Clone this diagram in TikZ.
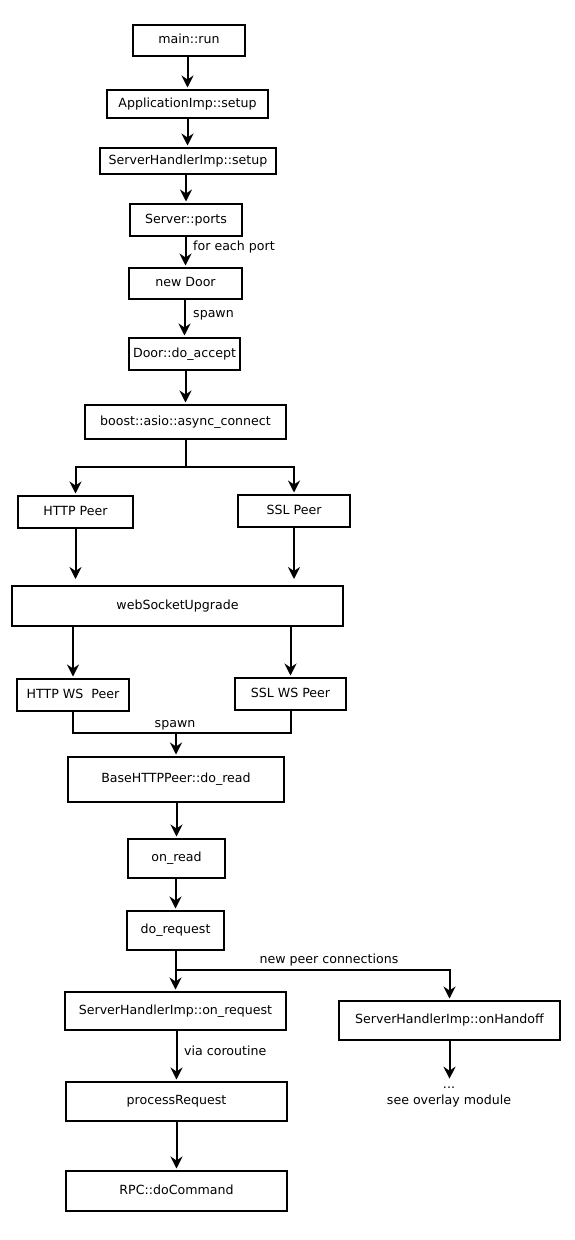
\documentclass[tikz,border=0pt]{standalone}
\usepackage{fontspec}
\setmainfont{DejaVu Sans}
\usetikzlibrary{arrows.meta}
\begin{document}
\begin{tikzpicture}[x=1pt,y=-1pt,
 box/.style={draw, line width=2pt, inner sep=0pt, text height=9.6pt, text depth=3.6pt, font=\fontsize{12.6}{15}\selectfont},
 lbl/.style={inner sep=0pt, text height=9.6pt, text depth=3.6pt, font=\fontsize{12.6}{15}\selectfont},
 arr/.style={line width=2pt, -{Stealth[length=12pt,width=12pt,inset=4pt]}, shorten >=1.5pt},
 ln/.style={line width=2pt}]
\useasboundingbox[fill=white] (0,0) rectangle (574,1240);
\node[box, minimum width=112pt, minimum height=31pt] (main) at (189,40.5) {main::run};
\node[box, minimum width=161pt, minimum height=28pt] (app) at (187.5,104) {ApplicationImp::setup};
\node[box, minimum width=176pt, minimum height=26pt] (shs) at (188,161) {ServerHandlerImp::setup};
\node[box, minimum width=112pt, minimum height=32pt] (ports) at (186,220) {Server::ports};
\node[box, minimum width=113pt, minimum height=31pt] (door) at (185.5,283.5) {new Door};
\node[box, minimum width=111pt, minimum height=32pt] (accept) at (184.5,354) {Door::do\_accept};
\node[box, minimum width=201pt, minimum height=34pt] (boost) at (185.5,422) {boost::asio::async\_connect};
\node[box, minimum width=115pt, minimum height=32pt] (httpp) at (75.5,512) {HTTP Peer};
\node[box, minimum width=112pt, minimum height=32pt] (sslp) at (294,511) {SSL Peer};
\node[box, minimum width=331pt, minimum height=40pt] (wsu) at (177.5,606) {webSocketUpgrade};
\node[box, minimum width=112pt, minimum height=32pt] (httpws) at (73,695) {HTTP WS\ \ Peer};
\node[box, minimum width=111pt, minimum height=32pt] (sslws) at (290.5,694) {SSL WS Peer};
\node[box, minimum width=216pt, minimum height=45pt] (base) at (176,779.5) {BaseHTTPPeer::do\_read};
\node[box, minimum width=97pt, minimum height=39pt] (onread) at (176.5,858.5) {on\_read};
\node[box, minimum width=97pt, minimum height=39pt] (doreq) at (175.5,930.5) {do\_request};
\node[box, minimum width=221pt, minimum height=38pt] (onreq) at (175.5,1011) {ServerHandlerImp::on\_request};
\node[box, minimum width=221pt, minimum height=39pt] (handoff) at (449.5,1020.5) {ServerHandlerImp::onHandoff};
\node[box, minimum width=221pt, minimum height=39pt] (proc) at (176.5,1101.5) {processRequest};
\node[box, minimum width=221pt, minimum height=40pt] (rpc) at (176.5,1191) {RPC::doCommand};
\node[lbl] (dots) at (449,1085.5) {...};
\node[lbl] (see) at (449,1101.5) {see overlay module};
\node[lbl, anchor=west] (l1) at (193,247) {for each port};
\node[lbl, anchor=west] (l2) at (193,314) {spawn};
\node[lbl] (l3) at (175,724) {spawn};
\node[lbl] (l4) at (329,960.5) {new peer connections};
\node[lbl, anchor=west] (l5) at (184,1052.5) {via coroutine};
\coordinate (split) at (186,467);
\coordinate (merge) at (176,733);
\coordinate (branch) at (176,970);
\draw[arr] (main.south -| app) -- (app);
\draw[arr] (app) -- (app |- shs.north);
\draw[arr] (shs.south -| ports) -- (ports);
\draw[arr] (ports.south -| door) -- (door);
\draw[arr] (door.south -| accept) -- (accept);
\draw[arr] (accept.south -| boost) -- (boost);
\draw[ln] (boost.south -| split) -- (split);
\draw[arr] (split) -| (httpp.north);
\draw[arr] (split) -| (sslp.north);
\draw[arr, shorten >=6pt] (httpp.south) -- (httpp.south |- wsu.north);
\draw[arr, shorten >=6pt] (sslp.south) -- (sslp.south |- wsu.north);
\draw[arr] (wsu.south -| httpws) -- (httpws);
\draw[arr] (wsu.south -| sslws) -- (sslws);
\draw[ln] (httpws.south) |- (merge) -| (sslws.south);
\draw[arr] (merge) -- (base.north -| merge);
\draw[arr] (base.south -| onread) -- (onread);
\draw[arr] (onread.south -| doreq) -- (doreq);
\draw[arr] (doreq.south -| onreq) -- (onreq);
\draw[arr] (branch) -| (handoff.north);
\draw[arr] (onreq.south -| proc) -- (proc);
\draw[arr] (proc) -- (rpc);
\draw[arr, shorten >=0pt] (handoff) -- (dots.north -| handoff);
\end{tikzpicture}
\end{document}
